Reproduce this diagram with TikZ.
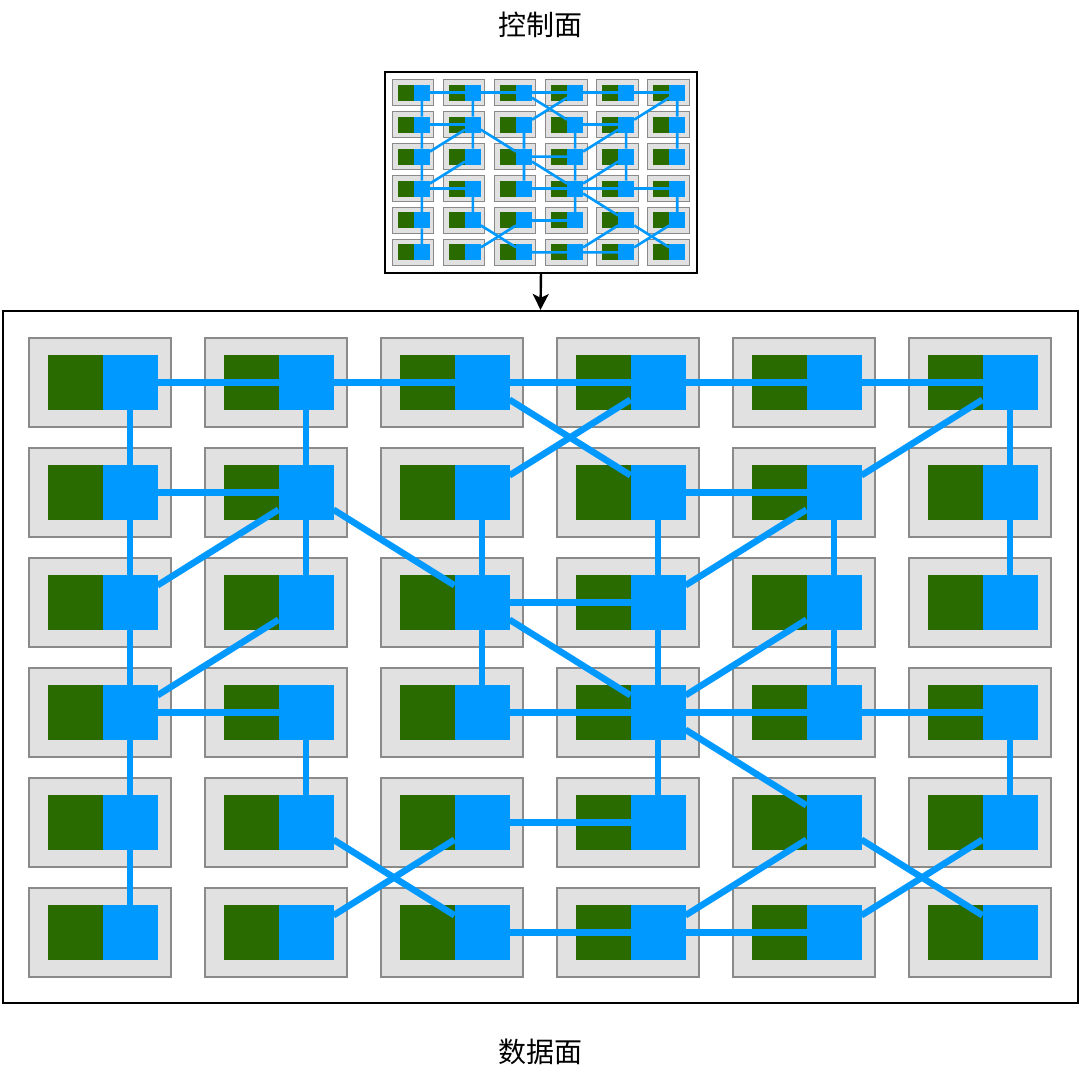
\documentclass[tikz,border=0pt]{standalone}
\usepackage{fontspec}
\newfontfamily\cjk{Noto Sans CJK SC}
\usetikzlibrary{arrows.meta}

\definecolor{cellgray}{HTML}{E1E1E1}
\definecolor{edgegray}{HTML}{8A8A8A}
\definecolor{hostgreen}{HTML}{2A6B00}
\definecolor{switchblue}{HTML}{0099FF}

\tikzset{
  planebox/.style={draw=black, line width=2.2pt, fill=white, minimum width=1075pt, minimum height=692pt, inner sep=0pt},
  cellbox/.style={draw=edgegray, fill=cellgray, minimum width=142pt, minimum height=89pt, inner sep=0pt, outer sep=0pt},
  hostbox/.style={fill=hostgreen, minimum width=55pt, minimum height=55pt, inner sep=0pt, outer sep=0pt},
  switchbox/.style={fill=switchblue, minimum width=55pt, minimum height=55pt, inner sep=0pt, outer sep=0pt},
  link/.style={draw=switchblue},
  flow/.style={draw=black, line width=2.4pt, -{Stealth[length=16pt, width=16pt, inset=4pt]}},
  planelabel/.style={font=\cjk\fontsize{28}{34}\selectfont}
}

% one plane: #1 name prefix, #2 line scale
\newcommand{\meshplane}[2]{%
  \node[planebox] (#1) at (537.5,346) {};
  \foreach \r in {1,...,6}{
    \foreach \c in {1,...,6}{
      \node[cellbox, line width=2.4pt*#2] (#1-\r-\c-cell) at ({97+176*(\c-1)},{71.5+110*(\r-1)}) {};
      \node[hostbox] (#1-\r-\c-host) at ({72+176*(\c-1)},{71.5+110*(\r-1)}) {};
      \node[switchbox] (#1-\r-\c) at ({127+176*(\c-1)},{71.5+110*(\r-1)}) {};
    }
  }
  % horizontal links
  \foreach \a/\b in {1-1/1-2, 1-2/1-3, 1-3/1-4, 1-4/1-5, 1-5/1-6, 2-1/2-2, 2-4/2-5, 3-3/3-4,
                     4-1/4-2, 4-3/4-4, 4-4/4-5, 4-5/4-6, 5-3/5-4, 6-3/6-4, 6-4/6-5}
    \draw[link, line width=6.5pt*#2] (#1-\a) -- (#1-\b);
  % vertical links
  \foreach \a/\b in {1-1/2-1, 2-1/3-1, 3-1/4-1, 4-1/5-1, 5-1/6-1, 1-2/2-2, 2-2/3-2, 4-2/5-2,
                     2-3/3-3, 3-3/4-3, 2-4/3-4, 3-4/4-4, 4-4/5-4, 2-5/3-5, 3-5/4-5,
                     1-6/2-6, 2-6/3-6, 4-6/5-6}
    \draw[link, line width=6.5pt*#2] (#1-\a) -- (#1-\b);
  % diagonal links
  \foreach \a/\b in {1-3/2-4, 1-4/2-3, 1-6/2-5, 2-2/3-1, 2-2/3-3, 2-5/3-4, 3-2/4-1, 3-3/4-4,
                     3-5/4-4, 4-4/5-5, 5-2/6-3, 5-3/6-2, 5-5/6-4, 5-5/6-6, 5-6/6-5}
    \draw[link, line width=6.5pt*#2] (#1-\a) -- (#1-\b);
}

\begin{document}
\begin{tikzpicture}[x=1pt, y=-1pt]
\useasboundingbox (0,0) rectangle (1080,1077);
\node[planelabel] (ctrltitle) at (540,25) {控制面};
\begin{scope}[shift={(385,72)}, scale=0.2902, transform shape]
\meshplane{ctrl}{0.4}
\end{scope}
\begin{scope}[shift={(3,311)}]
\meshplane{data}{1}
\end{scope}
\draw[flow] (ctrl.south) -- (data.north);
\node[planelabel] (datatitle) at (540,1052) {数据面};
\end{tikzpicture}
\end{document}
